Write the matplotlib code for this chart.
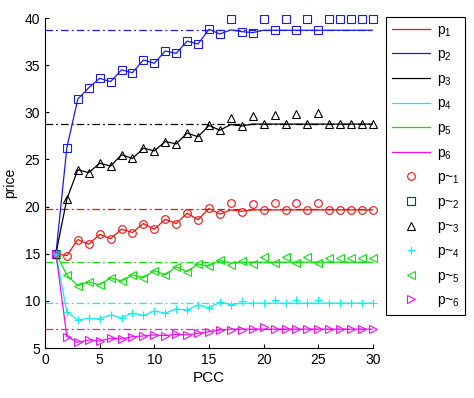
import matplotlib
matplotlib.use("Agg")
import matplotlib.pyplot as plt
import numpy as np

plt.rcParams['font.family'] = ['Liberation Sans', 'DejaVu Sans']
plt.rcParams['mathtext.default'] = 'regular'

# iterations (PCC)
pcc = list(range(1, 31))

# solid lines p1..p6
p_lines = [
    [15, 14.8, 16.5, 16.0, 17.05, 16.6, 17.6, 17.25, 18.2, 17.6, 18.65, 18.2, 19.3, 18.6, 19.8, 19.2,
     19.65, 19.5, 19.65, 19.65, 19.65, 19.65, 19.65, 19.65, 19.65, 19.65, 19.65, 19.65, 19.65, 19.65],
    [15, 26.25, 31.4, 32.6, 33.6, 33.25, 34.5, 34.2, 35.55, 35.2, 36.5, 36.25, 37.55, 37.25, 38.8, 38.3,
     38.75, 38.55, 38.45, 38.7, 38.7, 38.7, 38.7, 38.7, 38.7, 38.7, 38.7, 38.7, 38.7, 38.7],
    [15, 20.8, 23.9, 23.6, 24.6, 24.3, 25.5, 25.1, 26.2, 25.9, 26.9, 26.65, 27.8, 27.4, 28.6, 28.1,
     28.7, 28.55, 28.75, 28.75, 28.75, 28.75, 28.75, 28.75, 28.75, 28.75, 28.75, 28.75, 28.75, 28.75],
    [15, 8.8, 7.97, 8.15, 8.08, 8.5, 8.22, 8.7, 8.45, 8.93, 8.7, 9.14, 9.03, 9.57, 9.28, 9.85,
     9.6, 9.75, 9.75, 9.75, 9.75, 9.75, 9.75, 9.75, 9.75, 9.75, 9.75, 9.75, 9.75, 9.75],
    [15, 12.75, 11.6, 12.0, 11.7, 12.45, 12.1, 12.75, 12.45, 13.2, 12.75, 13.6, 13.1, 13.9, 13.7, 14.3,
     14.0, 14.1, 14.1, 14.1, 14.1, 14.1, 14.1, 14.1, 14.1, 14.1, 14.1, 14.1, 14.1, 14.1],
    [15, 6.2, 5.6, 5.85, 5.75, 6.03, 5.96, 6.2, 6.28, 6.38, 6.31, 6.46, 6.38, 6.56, 6.73, 6.91,
     7.0, 7.0, 7.0, 7.0, 7.0, 7.0, 7.0, 7.0, 7.0, 7.0, 7.0, 7.0, 7.0, 7.0],
]

# markers p~1..p~6
p_tilde = [
    [15, 14.8, 16.5, 16.0, 17.05, 16.6, 17.6, 17.25, 18.2, 17.6, 18.65, 18.2, 19.3, 18.6, 19.8, 19.2,
     20.35, 19.45, 20.3, 19.65, 20.35, 19.65, 20.35, 19.65, 20.4, 19.65, 19.65, 19.65, 19.65, 19.65],
    [15, 26.25, 31.4, 32.6, 33.6, 33.25, 34.5, 34.2, 35.55, 35.2, 36.5, 36.25, 37.55, 37.25, 38.8, 38.3,
     39.85, 38.55, 38.45, 39.85, 38.7, 39.85, 38.7, 39.85, 38.7, 39.85, 39.85, 39.85, 39.85, 39.85],
    [15, 20.8, 23.9, 23.6, 24.6, 24.3, 25.5, 25.1, 26.2, 25.9, 26.9, 26.65, 27.8, 27.4, 28.6, 28.1,
     29.35, 28.55, 29.6, 28.75, 29.7, 28.8, 29.8, 28.8, 29.9, 28.8, 28.8, 28.8, 28.8, 28.8],
    [15, 8.8, 7.97, 8.15, 8.08, 8.5, 8.22, 8.7, 8.45, 8.93, 8.7, 9.14, 9.03, 9.57, 9.28, 9.85,
     9.57, 10.0, 9.75, 9.75, 10.1, 9.75, 10.1, 9.75, 10.1, 9.75, 9.75, 9.75, 9.75, 9.75],
    [15, 12.75, 11.6, 12.0, 11.7, 12.45, 12.1, 12.75, 12.45, 13.2, 12.75, 13.6, 13.1, 13.9, 13.7, 14.3,
     13.8, 14.2, 13.9, 14.6, 14.0, 14.6, 14.0, 14.6, 14.0, 14.5, 14.5, 14.5, 14.5, 14.5],
    [15, 6.2, 5.6, 5.85, 5.75, 6.03, 5.96, 6.2, 6.28, 6.38, 6.31, 6.46, 6.38, 6.56, 6.73, 6.91,
     6.91, 6.91, 7.0, 7.27, 7.0, 7.0, 7.0, 7.0, 7.0, 7.0, 7.0, 7.0, 7.0, 7.0],
]

# equilibrium (dash-dot) levels
p_eq = [19.7, 38.75, 28.75, 9.75, 14.1, 7.0]

line_labels = ['p$_1$', 'p$_2$', 'p$_3$', 'p$_4$', 'p$_5$', 'p$_6$']
tilde_labels = ['p~$_1$', 'p~$_2$', 'p~$_3$', 'p~$_4$', 'p~$_5$', 'p~$_6$']

colors = ['#f01010', '#1a1aee', '#000000', '#10eeee', '#10e010', '#ee10ee']
markers = ['o', 's', '^', '+', '<', '>']

fig = plt.figure(figsize=(4.74, 3.98), dpi=100)
ax = fig.add_axes([45 / 474, 1 - 348 / 398, 328 / 474, 330 / 398])

for i in range(6):
    ax.plot([0, 30], [p_eq[i], p_eq[i]], linestyle=(0, (6, 2.5, 1.5, 2.5)),
            color=colors[i], lw=0.9)

handles = []
for i in range(6):
    h, = ax.plot(pcc, p_lines[i], '-', color=colors[i], lw=0.9, label=line_labels[i])
    handles.append(h)
for i in range(6):
    h, = ax.plot(pcc, p_tilde[i], linestyle='none', marker=markers[i], color=colors[i],
                 markersize=5.5, markerfacecolor='none', markeredgewidth=0.8,
                 label=tilde_labels[i], clip_on=False)
    handles.append(h)

ax.set_xlim(0, 30)
ax.set_ylim(5, 40)
ax.set_xticks(np.arange(0, 31, 5))
ax.set_yticks(np.arange(5, 41, 5))
ax.tick_params(direction='in', length=3, width=0.8, labelsize=10)
for s in ['top', 'right']:
    ax.spines[s].set_visible(False)
for s in ['left', 'bottom']:
    ax.spines[s].set_linewidth(0.8)
ax.set_xlabel('PCC', fontsize=11, labelpad=3)
ax.set_ylabel('price', fontsize=10, labelpad=5)

leg = fig.legend(handles=handles, loc='upper left',
                 bbox_to_anchor=(386 / 474, 1 - 17 / 398), borderaxespad=0,
                 fontsize=10, handlelength=2.8, handletextpad=0.45,
                 labelspacing=0.62, borderpad=0.4, fancybox=False,
                 framealpha=1, edgecolor='black')
leg.get_frame().set_linewidth(0.8)

fig.savefig('out.png', dpi=100)
